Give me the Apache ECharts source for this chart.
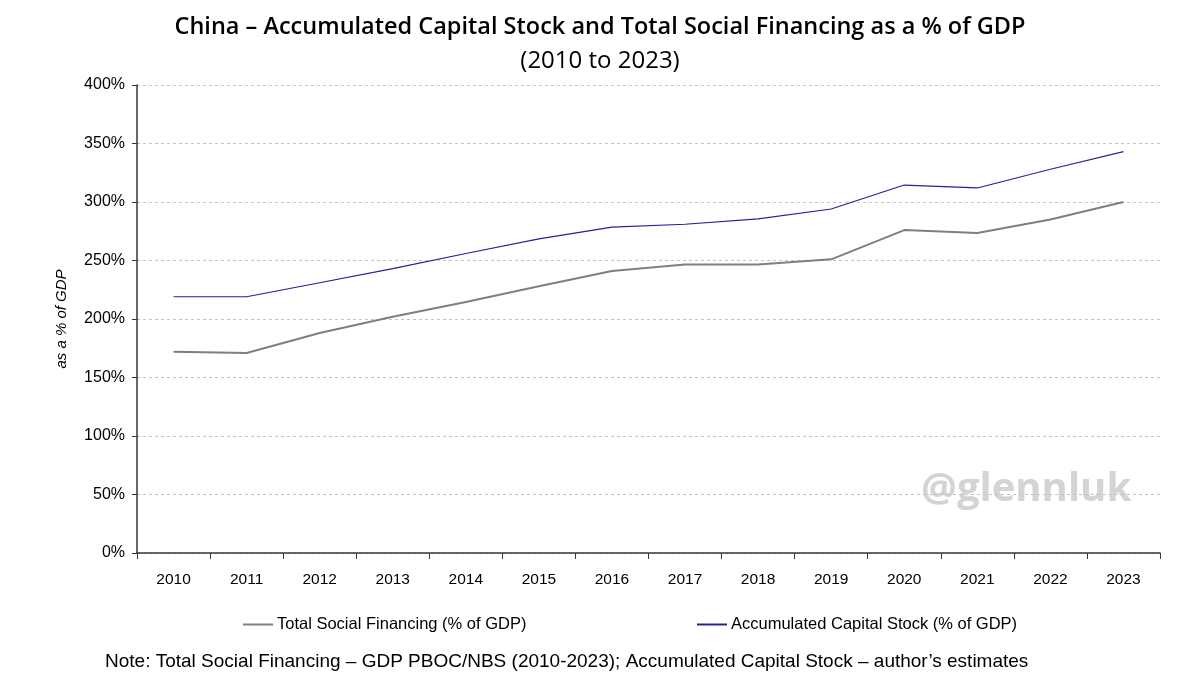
<!DOCTYPE html>
<html><head><meta charset="utf-8">
<script src="https://cdn.jsdelivr.net/npm/echarts@6/dist/echarts.min.js"></script>
<style>html,body{margin:0;padding:0;background:#fff}#c{width:1200px;height:692px}</style>
</head><body><div id="c"></div>
<script>
const years = ['2010','2011','2012','2013','2014','2015','2016','2017','2018','2019','2020','2021','2022','2023'];
const tsf = [172, 171, 188, 202, 214.5, 228, 241, 246.5, 246.5, 251, 276, 273.5, 285, 300];
const acs = [219, 219, 231, 243, 256, 268.5, 278.5, 281, 285.5, 294, 314.5, 312, 328, 343];
const yTicks = [0, 50, 100, 150, 200, 250, 300, 350, 400];

const chart = echarts.init(document.getElementById('c'));
chart.setOption({
  animation: false,
  backgroundColor: '#fff',
  title: [
    {text: 'China – Accumulated Capital Stock and Total Social Financing as a % of GDP', left: 'center', top: 10,
     textStyle: {fontFamily: 'Open Sans', fontWeight: 600, fontSize: 23.5, color: '#000'}},
    {text: '(2010 to 2023)', left: 'center', top: 44,
     textStyle: {fontFamily: 'Open Sans', fontWeight: 'normal', fontSize: 24, color: '#000'}}
  ],
  grid: {left: 137, right: 40, top: 85, bottom: 139},
  xAxis: {
    type: 'category', data: years, boundaryGap: true,
    axisLine: {lineStyle: {color: '#3a343a', width: 1.5}},
    axisTick: {show: true, length: 6, lineStyle: {color: '#3a343a'}},
    axisLabel: {fontFamily: 'Liberation Sans', fontSize: 15.5, color: '#000', margin: 19}
  },
  yAxis: {
    type: 'value', min: yTicks[0], max: yTicks[yTicks.length - 1], interval: 50,
    name: 'as a % of GDP', nameLocation: 'middle', nameGap: 68, nameRotate: 90,
    nameTextStyle: {fontFamily: 'Liberation Sans', fontSize: 15, fontStyle: 'italic', color: '#000'},
    axisLine: {show: true, lineStyle: {color: '#3a343a', width: 1.5}},
    axisTick: {show: true, length: 5, lineStyle: {color: '#3a343a'}},
    axisLabel: {fontFamily: 'Liberation Sans', fontSize: 16, color: '#000', margin: 12, formatter: '{value}%'},
    splitLine: {show: true, lineStyle: {color: '#c4c4c4', type: [3, 3], width: 1}}
  },
  legend: [
    {data: ['Total Social Financing (% of GDP)'], left: 238, top: 611, icon: 'rect', itemWidth: 30, itemHeight: 2,
     textStyle: {fontFamily: 'Liberation Sans', fontSize: 16.5, color: '#000', padding: [0, 0, 0, -1]}},
    {data: ['Accumulated Capital Stock (% of GDP)'], left: 692, top: 611, icon: 'rect', itemWidth: 30, itemHeight: 2,
     textStyle: {fontFamily: 'Liberation Sans', fontSize: 16.5, color: '#000', padding: [0, 0, 0, -1]}}
  ],
  graphic: [
    {type: 'text', left: 921, top: 470, z: 0, style: {text: '@glennluk', fill: '#d4d4d4', font: 'bold 40px "Open Sans"'}},
    {type: 'text', left: 105, top: 652, style: {text: 'Note: Total Social Financing – GDP PBOC/NBS (2010-2023); Accumulated Capital Stock – author’s estimates', fill: '#000', font: '19px "Liberation Sans"'}}
  ],
  series: [
    {name: 'Total Social Financing (% of GDP)', type: 'line', data: tsf, symbol: 'none', z: 3,
     itemStyle: {color: '#7f7f7f'}, lineStyle: {color: '#7f7f7f', width: 2}},
    {name: 'Accumulated Capital Stock (% of GDP)', type: 'line', data: acs, symbol: 'none', z: 3,
     itemStyle: {color: '#22229a'}, lineStyle: {color: '#22229a', width: 1.2}}
  ]
});
</script></body></html>
